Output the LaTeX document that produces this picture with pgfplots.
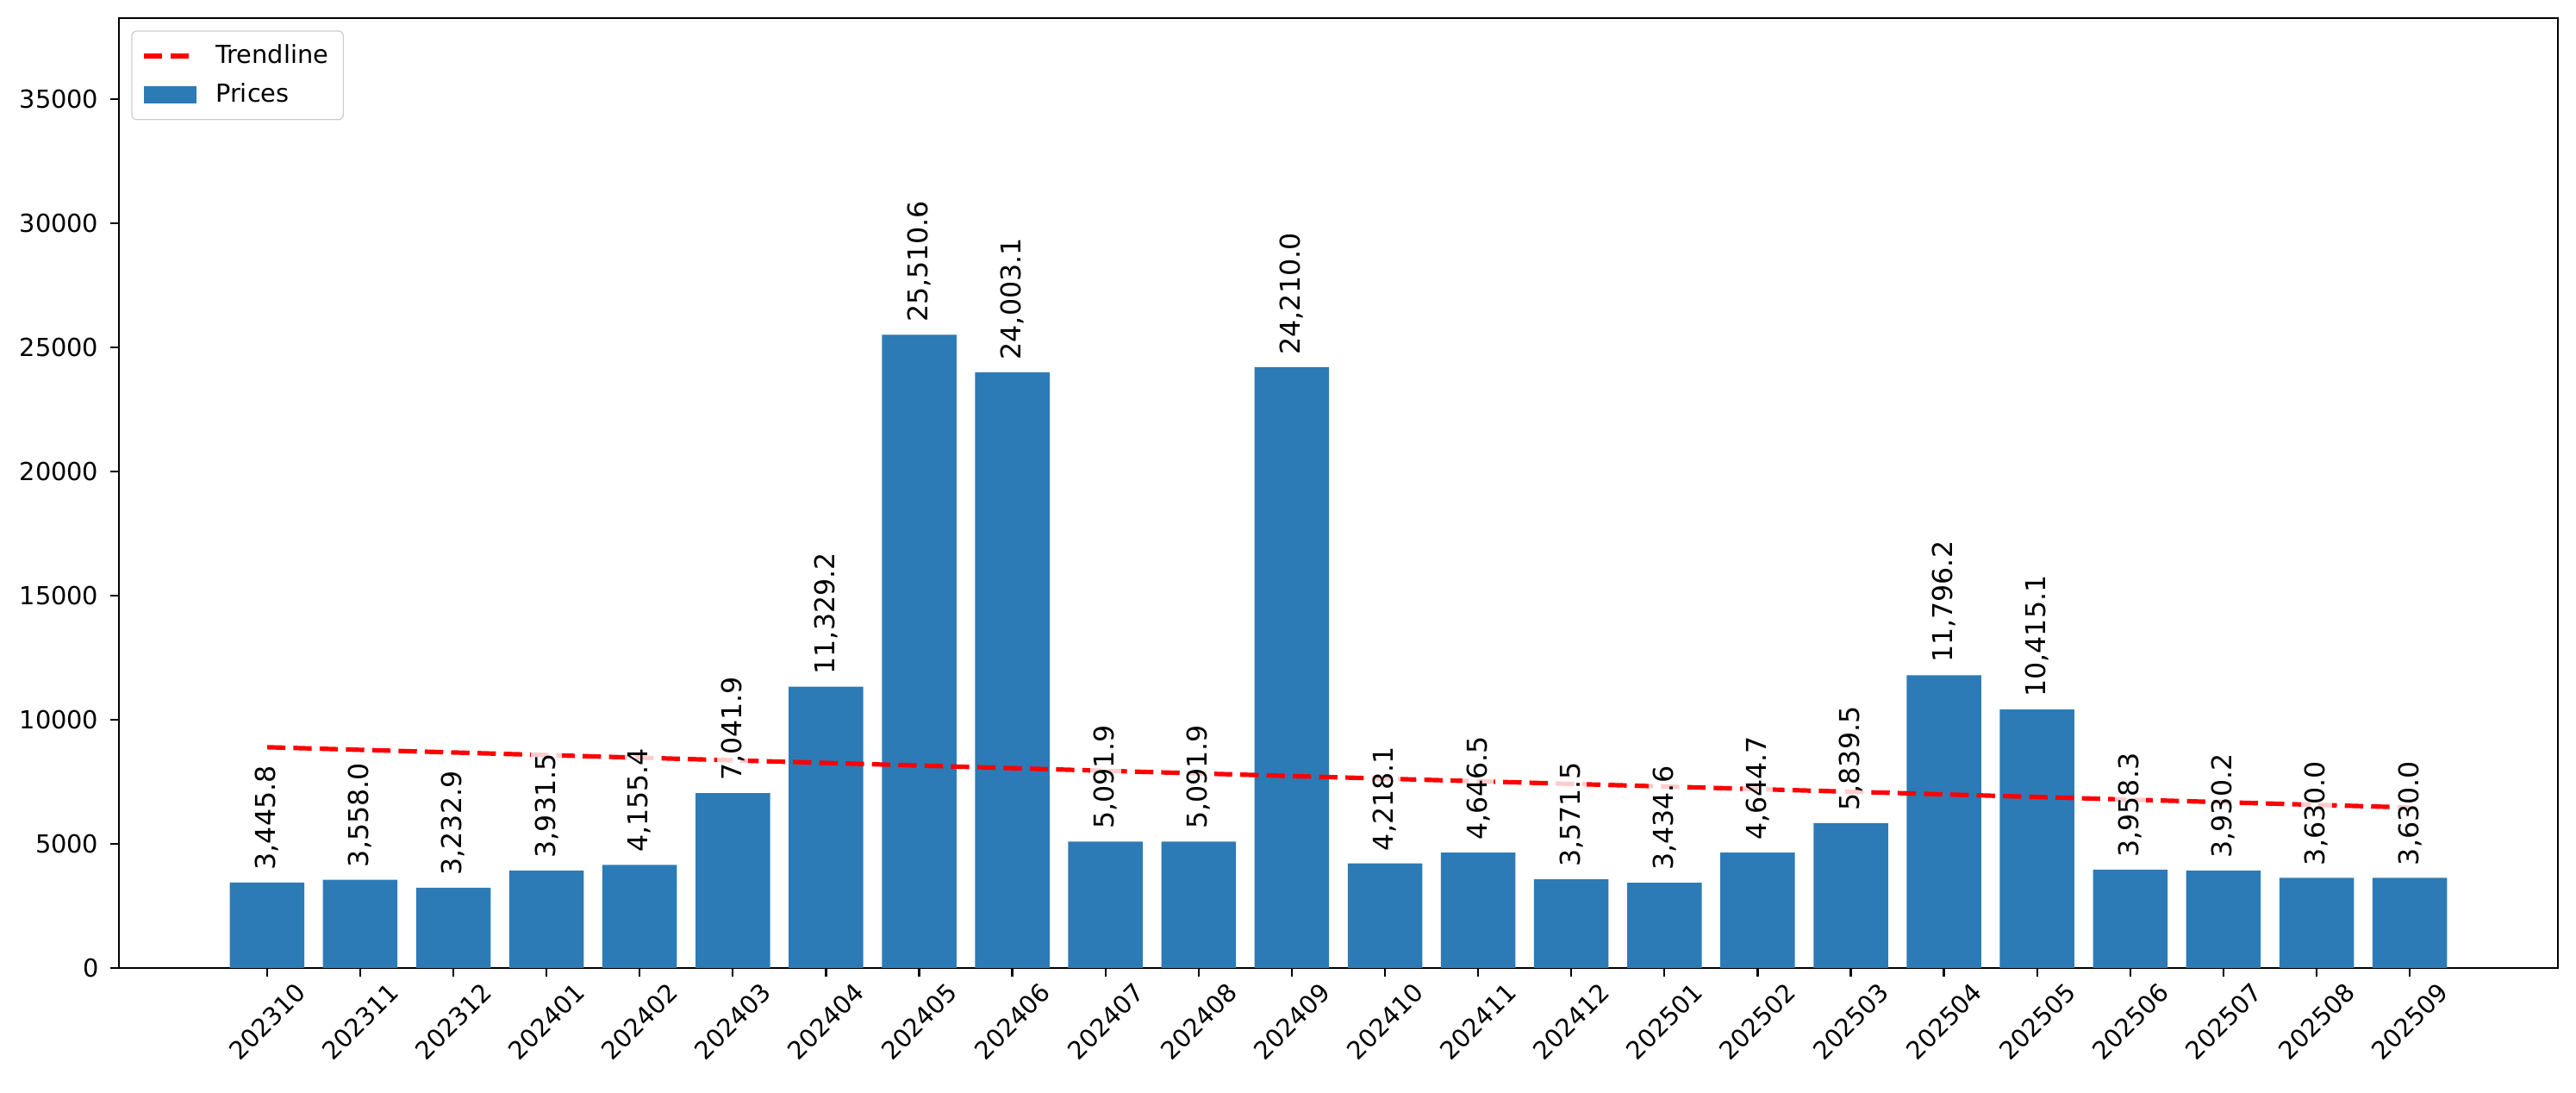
\documentclass[border=0pt]{standalone}
\usepackage{fontspec}
\setmainfont{DejaVu Sans}
\usepackage{pgfplots}
\pgfplotsset{compat=1.18}
\definecolor{barblue}{RGB}{44,123,182}
\definecolor{legframe}{RGB}{204,204,204}
\begin{document}
\begin{tikzpicture}
\begin{axis}[
  at={(0,0)}, anchor=south west,
  scale only axis, width=982.6pt, height=382.6pt,
  xmin=-1.59, xmax=24.59, ymin=0, ymax=38266,
  axis line style={line width=0.8pt},
  tick align=outside, major tick length=3.5pt,
  tick style={line width=0.8pt, black},
  xtick={0,...,23},
  xticklabels={202310,202311,202312,202401,202402,202403,202404,202405,202406,202407,202408,202409,202410,202411,202412,202501,202502,202503,202504,202505,202506,202507,202508,202509},
  xticklabel style={rotate=45, anchor=center, inner sep=0pt, font=\fontsize{10}{12}\selectfont},
  xticklabel shift=18pt,
  ytick={0,5000,...,35000},
  scaled y ticks=false,
  yticklabel style={font=\fontsize{10}{12}\selectfont, inner sep=0pt, xshift=-4.5pt},
  /pgf/number format/1000 sep={},
  /pgf/number format/assume math mode=true,
  xtick pos=bottom, ytick pos=left,
  legend cell align=left,
  reverse legend,
  legend style={at={(0,1)}, anchor=north west, xshift=5pt, yshift=-5pt,
    draw=legframe, rounded corners=2pt, fill=white, fill opacity=0.8, text opacity=1,
    font=\fontsize{10}{12}\selectfont, inner xsep=4pt, inner ysep=3.5pt, row sep=2.5pt},
]
\addplot[ybar, bar width=0.8, fill=barblue, draw=none,
  legend image code/.code={\fill[barblue, sharp corners, fill opacity=1] (0pt,-3.5pt) rectangle (21pt,3.5pt); \path (26pt,0pt);}]
  coordinates {
  (0,3445.8) (1,3558.0) (2,3232.9) (3,3931.5) (4,4155.4) (5,7041.9)
  (6,11329.2) (7,25510.6) (8,24003.1) (9,5091.9) (10,5091.9) (11,24210.0)
  (12,4218.1) (13,4646.5) (14,3571.5) (15,3434.6) (16,4644.7) (17,5839.5)
  (18,11796.2) (19,10415.1) (20,3958.3) (21,3930.2) (22,3630.0) (23,3630.0)};
\addlegendentry{Prices}
\addplot[red, line width=1.8pt, dash pattern=on 7.4pt off 3.2pt,
  legend image code/.code={\draw[red, sharp corners, line width=1.8pt, dash pattern=on 7.4pt off 3.2pt] (0pt,0pt) -- (21pt,0pt); \path (26pt,0pt);}]
  coordinates {(0,8894) (23,6466)};
\addlegendentry{Trendline}
\addplot[draw=none, forget plot, point meta=explicit symbolic,
  nodes near coords,
  every node near coord/.append style={rotate=90, anchor=west, inner sep=1.5pt, outer sep=3.5pt,
    fill=white, fill opacity=0.8, text opacity=1, font=\fontsize{11}{13}\selectfont}]
  table[meta=l] {
  x y l
  0 3445.8 3,445.8
  1 3558.0 3,558.0
  2 3232.9 3,232.9
  3 3931.5 3,931.5
  4 4155.4 4,155.4
  5 7041.9 7,041.9
  6 11329.2 11,329.2
  7 25510.6 25,510.6
  8 24003.1 24,003.1
  9 5091.9 5,091.9
  10 5091.9 5,091.9
  11 24210.0 24,210.0
  12 4218.1 4,218.1
  13 4646.5 4,646.5
  14 3571.5 3,571.5
  15 3434.6 3,434.6
  16 4644.7 4,644.7
  17 5839.5 5,839.5
  18 11796.2 11,796.2
  19 10415.1 10,415.1
  20 3958.3 3,958.3
  21 3930.2 3,930.2
  22 3630.0 3,630.0
  23 3630.0 3,630.0
  };
\end{axis}
\pgfresetboundingbox
\path[use as bounding box] (-47.9pt,-50.3pt) rectangle (989.9pt,389.9pt);
\end{tikzpicture}
\end{document}
